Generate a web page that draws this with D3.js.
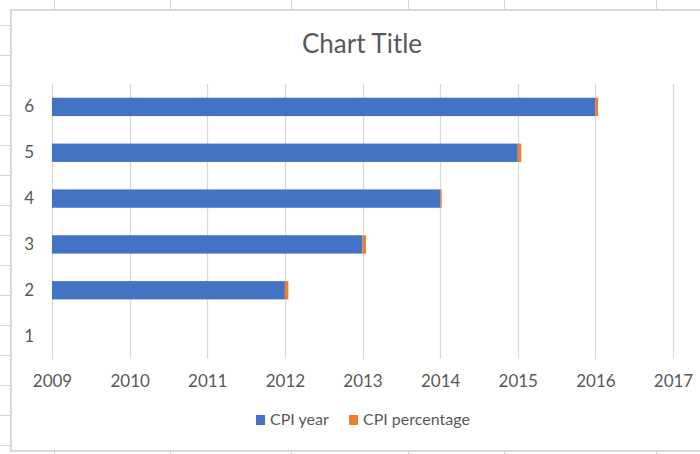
<!DOCTYPE html>
<html>
<head>
<meta charset="utf-8">
<script src="https://cdn.jsdelivr.net/npm/d3@7"></script>
<style>
  html, body { margin: 0; padding: 0; background: #fff; }
  svg { display: block; font-family: Lato, "Open Sans", sans-serif; }
</style>
</head>
<body>
<div id="chart"></div>
<script>
// chart data
const categories = ['1', '2', '3', '4', '5', '6'];
const cpiYear = [null, 2012, 2013, 2014, 2015, 2016];
const cpiPercentage = [null, 0.045, 0.045, 0.02, 0.045, 0.035];
const yearTicks = [2009, 2010, 2011, 2012, 2013, 2014, 2015, 2016, 2017];
const seriesNames = ['CPI year', 'CPI percentage'];
const seriesColors = ['#4472C4', '#ED7D31'];

const width = 700;
const height = 454;
const textColor = '#595959';
const gridColor = '#d9d9d9';

const svg = d3.select('#chart')
  .append('svg')
  .attr('width', width)
  .attr('height', height);

// spreadsheet cells behind the chart
const sheet = svg.append('g').attr('stroke', '#d4d4d4').attr('stroke-width', 1);
[54, 170, 291, 408, 504, 656].forEach((x) => {
  sheet.append('line').attr('x1', x + 0.5).attr('x2', x + 0.5).attr('y1', 0).attr('y2', height);
});
d3.range(25, height, 30).forEach((y) => {
  sheet.append('line').attr('x1', 0).attr('x2', 12).attr('y1', y + 0.5).attr('y2', y + 0.5);
});

// chart area
svg.append('rect')
  .attr('x', 11)
  .attr('y', 10)
  .attr('width', width + 20)
  .attr('height', 441)
  .attr('fill', '#fff')
  .attr('stroke', gridColor)
  .attr('stroke-width', 2);

const plot = { left: 52, right: 673, top: 84, bottom: 359 };

const x = d3.scaleLinear()
  .domain([yearTicks[0], yearTicks[yearTicks.length - 1]])
  .range([plot.left, plot.right])
  .clamp(true);

const y = d3.scaleBand()
  .domain(categories.slice().reverse())
  .range([plot.top, plot.bottom])
  .paddingInner(0.6)
  .paddingOuter(0.3);

// title
svg.append('text')
  .attr('x', 362)
  .attr('y', 53)
  .attr('text-anchor', 'middle')
  .attr('fill', textColor)
  .style('font-size', '26px')
  .text('Chart Title');

// vertical gridlines
svg.append('g')
  .selectAll('line')
  .data(yearTicks)
  .join('line')
  .attr('x1', (d) => Math.round(x(d)) + 0.5)
  .attr('x2', (d) => Math.round(x(d)) + 0.5)
  .attr('y1', plot.top)
  .attr('y2', plot.bottom)
  .attr('stroke', gridColor)
  .attr('stroke-width', 1.25);

// x axis labels
const xAxis = svg.append('g')
  .attr('transform', `translate(0,${plot.bottom})`)
  .call(d3.axisBottom(x).tickValues(yearTicks).tickFormat(d3.format('d')).tickSize(0).tickPadding(16));
xAxis.select('.domain').remove();
xAxis.selectAll('text').attr('fill', textColor).style('font-size', '17px').style('font-family', 'Lato, sans-serif');

// y axis labels
const yAxis = svg.append('g')
  .attr('transform', `translate(${plot.left},0)`)
  .call(d3.axisLeft(y).tickSize(0).tickPadding(18));
yAxis.select('.domain').remove();
yAxis.selectAll('text').attr('fill', textColor).style('font-size', '17px').style('font-family', 'Lato, sans-serif');

// stacked bars
const rows = categories.map((c, i) => ({ category: c, 'CPI year': cpiYear[i], 'CPI percentage': cpiPercentage[i] }));
const stacked = d3.stack().keys(seriesNames).value((d, key) => d[key] || 0)(rows);

svg.append('g')
  .selectAll('g')
  .data(stacked)
  .join('g')
  .attr('fill', (d, i) => seriesColors[i])
  .selectAll('rect')
  .data((d) => d.map((p) => ({ p, row: p.data })))
  .join('rect')
  .filter((d) => d.row['CPI year'] !== null)
  .attr('x', (d) => x(d.p[0]))
  .attr('y', (d) => y(d.row.category))
  .attr('width', (d) => Math.max(0, x(d.p[1]) - x(d.p[0])))
  .attr('height', y.bandwidth());

// legend
const legendItems = [
  { name: seriesNames[0], color: seriesColors[0], x: 256 },
  { name: seriesNames[1], color: seriesColors[1], x: 349 }
];
const legend = svg.append('g');
legendItems.forEach((item) => {
  legend.append('rect')
    .attr('x', item.x)
    .attr('y', 415)
    .attr('width', 9)
    .attr('height', 10)
    .attr('fill', item.color);
  legend.append('text')
    .attr('x', item.x + 14)
    .attr('y', 425)
    .attr('fill', textColor)
    .style('font-size', '16px')
    .text(item.name);
});
</script>
</body>
</html>
